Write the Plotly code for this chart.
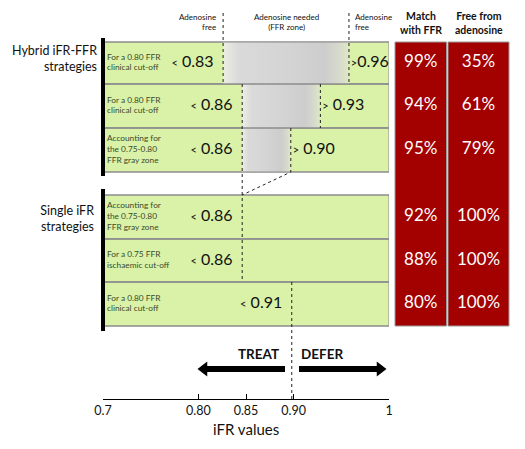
import plotly.graph_objects as go

group_labels = ["Hybrid iFR-FFR<br>strategies", "Single iFR<br>strategies"]
row_labels = ["For a 0.80 FFR<br>clinical cut-off",
              "For a 0.80 FFR<br>clinical cut-off",
              "Accounting for<br>the 0.75-0.80<br>FFR gray zone",
              "Accounting for<br>the 0.75-0.80<br>FFR gray zone",
              "For a 0.75 FFR<br>ischaemic cut-off",
              "For a 0.80 FFR<br>clinical cut-off"]
treat_below = ["0.83", "0.86", "0.86", "0.86", "0.86", "0.91"]
defer_above = ["0.96", "0.93", "0.90", None, None, None]
# where the cut-offs are drawn on the iFR axis of the picture
treat_edge = [0.826, 0.846, 0.846, 0.846, 0.846, 0.898]
defer_edge = [0.958, 0.928, 0.897, None, None, None]
match_ffr = [99, 94, 95, 92, 88, 80]
free_adenosine = [35, 61, 79, 100, 100, 100]
tick_vals = [0.7, 0.8, 0.85, 0.9, 1.0]
tick_text = ["0.7", "0.80", "0.85", "0.90", "1"]

FONT = "Lato"
W, H = 517, 441   # page body has an 8px margin, so the div sits at (8, 8)
OFF = 8
row_top = [42, 84, 128, 195, 239, 282]
row_bot = [84, 128, 172, 239, 282, 326]
row_mid = [(a + b) / 2 for a, b in zip(row_top, row_bot)]
green = "#d9f2a8"
edge = "#8c8c8c"
red = "#a30000"

fig = go.Figure()

# green strategy rows on the iFR axis (x); x2 is a plain pixel overlay
fig.add_trace(go.Bar(x=[1.0 - 0.7] * 6, base=0.7, y=row_mid,
                     width=[b - a for a, b in zip(row_top, row_bot)],
                     orientation="h", xaxis="x", yaxis="y",
                     marker=dict(color=green, line=dict(color=edge, width=1)),
                     hoverinfo="skip"))

# grey "adenosine needed" zones
grad = [[0, "#eceee2"], [0.12, "#dadada"], [0.5, "#d4d4d4"], [0.8, "#cdcdcd"],
        [0.92, "#d6d9cc"], [1, "#dfe9c4"]]
for i in range(6):
    if defer_edge[i] is None:
        continue
    lo, hi, t, b = treat_edge[i], defer_edge[i], row_top[i], row_bot[i]
    fig.add_trace(go.Scatter(x=[lo, hi, hi, lo, lo], y=[t, t, b, b, t], mode="lines",
                             fill="toself", line=dict(width=0),
                             fillgradient=dict(type="horizontal", colorscale=grad),
                             xaxis="x", yaxis="y", hoverinfo="skip"))

# row borders over the grey
bx, by = [], []
for t, b in zip(row_top, row_bot):
    bx += [0.7, 1.0, None, 0.7, 1.0, None]
    by += [t, t, None, b, b, None]
fig.add_trace(go.Scatter(x=bx, y=by, mode="lines", line=dict(color=edge, width=1),
                         xaxis="x", yaxis="y", hoverinfo="skip"))

# dotted cut-off lines
dx = [treat_edge[0], treat_edge[0], None,
      defer_edge[0], defer_edge[0], None,
      treat_edge[1], treat_edge[1], None,
      defer_edge[1], defer_edge[1], None,
      defer_edge[2], defer_edge[2], treat_edge[3], None,
      treat_edge[5], treat_edge[5]]
dy = [13, row_bot[0], None,
      13, row_bot[0], None,
      row_top[1], row_bot[4], None,
      row_top[1], row_bot[1], None,
      row_top[2], row_bot[2], row_top[3], None,
      row_top[5], 399]
fig.add_trace(go.Scatter(x=dx, y=dy, mode="lines", line=dict(color="#222", width=1, dash="dot"),
                         xaxis="x", yaxis="y", hoverinfo="skip"))

# cut-off values
small = "<span style='font-size:11px'>%s</span>"
fig.add_trace(go.Scatter(x=[v - 0.01 for v in treat_edge], y=row_mid, mode="text",
                         text=[small % "&lt;" + " " + s for s in treat_below],
                         textposition="middle left",
                         textfont=dict(family=FONT, size=16, color="#111"),
                         xaxis="x", yaxis="y", hoverinfo="skip"))
hx = [defer_edge[i] + 0.002 for i in range(3)]
ht = [small % "&gt;" + ("" if i == 0 else " ") + defer_above[i] for i in range(3)]
fig.add_trace(go.Scatter(x=hx, y=row_mid[:3], mode="text", text=ht,
                         textposition="middle right",
                         textfont=dict(family=FONT, size=16, color="#111"),
                         xaxis="x", yaxis="y", hoverinfo="skip"))

# row descriptions
fig.add_trace(go.Scatter(x=[107] * 6, y=row_mid, mode="text", text=row_labels,
                         textposition="middle right",
                         textfont=dict(family=FONT, size=8.3, color="#3a4a2c"),
                         xaxis="x2", yaxis="y", hoverinfo="skip"))

# group labels
fig.add_trace(go.Scatter(x=[97, 94], y=[60, 220], mode="text", text=group_labels,
                         textposition="middle left",
                         textfont=dict(family=FONT, size=12.5, color="#111"),
                         xaxis="x2", yaxis="y", hoverinfo="skip"))

# red result columns
for x0, x1 in [(395, 446.5), (448, 509)]:
    fig.add_shape(type="rect", xref="x2", yref="y", x0=x0, x1=x1, y0=42, y1=326,
                  fillcolor=red, line=dict(color="#9a9a9a", width=1), layer="below")
fig.add_trace(go.Scatter(x=[420.8] * 6, y=row_mid, mode="text",
                         text=[f"{v}%" for v in match_ffr],
                         textfont=dict(family=FONT, size=17, color="white"),
                         xaxis="x2", yaxis="y", hoverinfo="skip"))
fig.add_trace(go.Scatter(x=[478.5] * 6, y=row_mid, mode="text",
                         text=[f"{v}%" for v in free_adenosine],
                         textfont=dict(family=FONT, size=17, color="white"),
                         xaxis="x2", yaxis="y", hoverinfo="skip"))

# thick left brackets
fig.add_shape(type="line", xref="x2", yref="y", x0=103, x1=103, y0=38, y1=176,
              line=dict(color="black", width=4))
fig.add_shape(type="line", xref="x2", yref="y", x0=103, x1=103, y0=189, y1=331,
              line=dict(color="black", width=4))

# treat / defer arrows
fig.add_trace(go.Scatter(x=[285, 206, None, 299, 377], y=[369, 369, None, 369, 369],
                         mode="lines", line=dict(color="black", width=6),
                         xaxis="x2", yaxis="y", hoverinfo="skip"))
fig.add_trace(go.Scatter(x=[204, 380], y=[369, 369], mode="markers",
                         marker=dict(symbol=["triangle-left", "triangle-right"], size=13,
                                     color="black"),
                         xaxis="x2", yaxis="y", hoverinfo="skip"))

ann = [
    dict(x=218, y=21.5, text="Adenosine<br>free", xanchor="right", align="right", size=8, bold=False),
    dict(x=286, y=21.5, text="Adenosine needed<br>(FFR zone)", xanchor="center", align="center", size=8, bold=False),
    dict(x=353, y=21.5, text="Adenosine<br>free", xanchor="left", align="left", size=8, bold=False),
    dict(x=421, y=22.5, text="Match<br>with FFR", xanchor="center", align="center", size=10.5, bold=True),
    dict(x=478.5, y=22.5, text="Free from<br>adenosine", xanchor="center", align="center", size=10.5, bold=True),
    dict(x=258, y=354, text="TREAT", xanchor="center", align="center", size=13.5, bold=True),
    dict(x=322, y=354, text="DEFER", xanchor="center", align="center", size=13.5, bold=True),
    dict(x=246, y=429, text="iFR values", xanchor="center", align="center", size=15, bold=False),
]
for a in ann:
    fig.add_annotation(x=a["x"], y=a["y"], xref="x2", yref="y", text=a["text"],
                       xanchor=a["xanchor"], yanchor="middle", align=a["align"], showarrow=False,
                       font=dict(family=FONT, size=a["size"], color="#111",
                                 weight=700 if a["bold"] else 400))

fig.update_layout(
    template="none",
    width=W, height=H, margin=dict(l=0, r=0, t=0, b=0, autoexpand=False),
    paper_bgcolor="white", plot_bgcolor="rgba(0,0,0,0)", showlegend=False,
    xaxis=dict(range=[0.7, 1.0], domain=[(103 - OFF) / W, (389 - OFF) / W], anchor="free",
               position=1 - (399 - OFF) / H, showline=True, linecolor="black", linewidth=1,
               ticks="inside", ticklen=5, tickcolor="black", tickvals=tick_vals,
               ticktext=tick_text, tickfont=dict(family=FONT, size=12.5, color="#111"),
               showgrid=False, zeroline=False, automargin=False),
    xaxis2=dict(range=[OFF, W + OFF], domain=[0, 1], visible=False, anchor="y"),
    yaxis=dict(range=[H + OFF, OFF], domain=[0, 1], visible=False, anchor="x2"),
)

fig.write_html("out.html")
